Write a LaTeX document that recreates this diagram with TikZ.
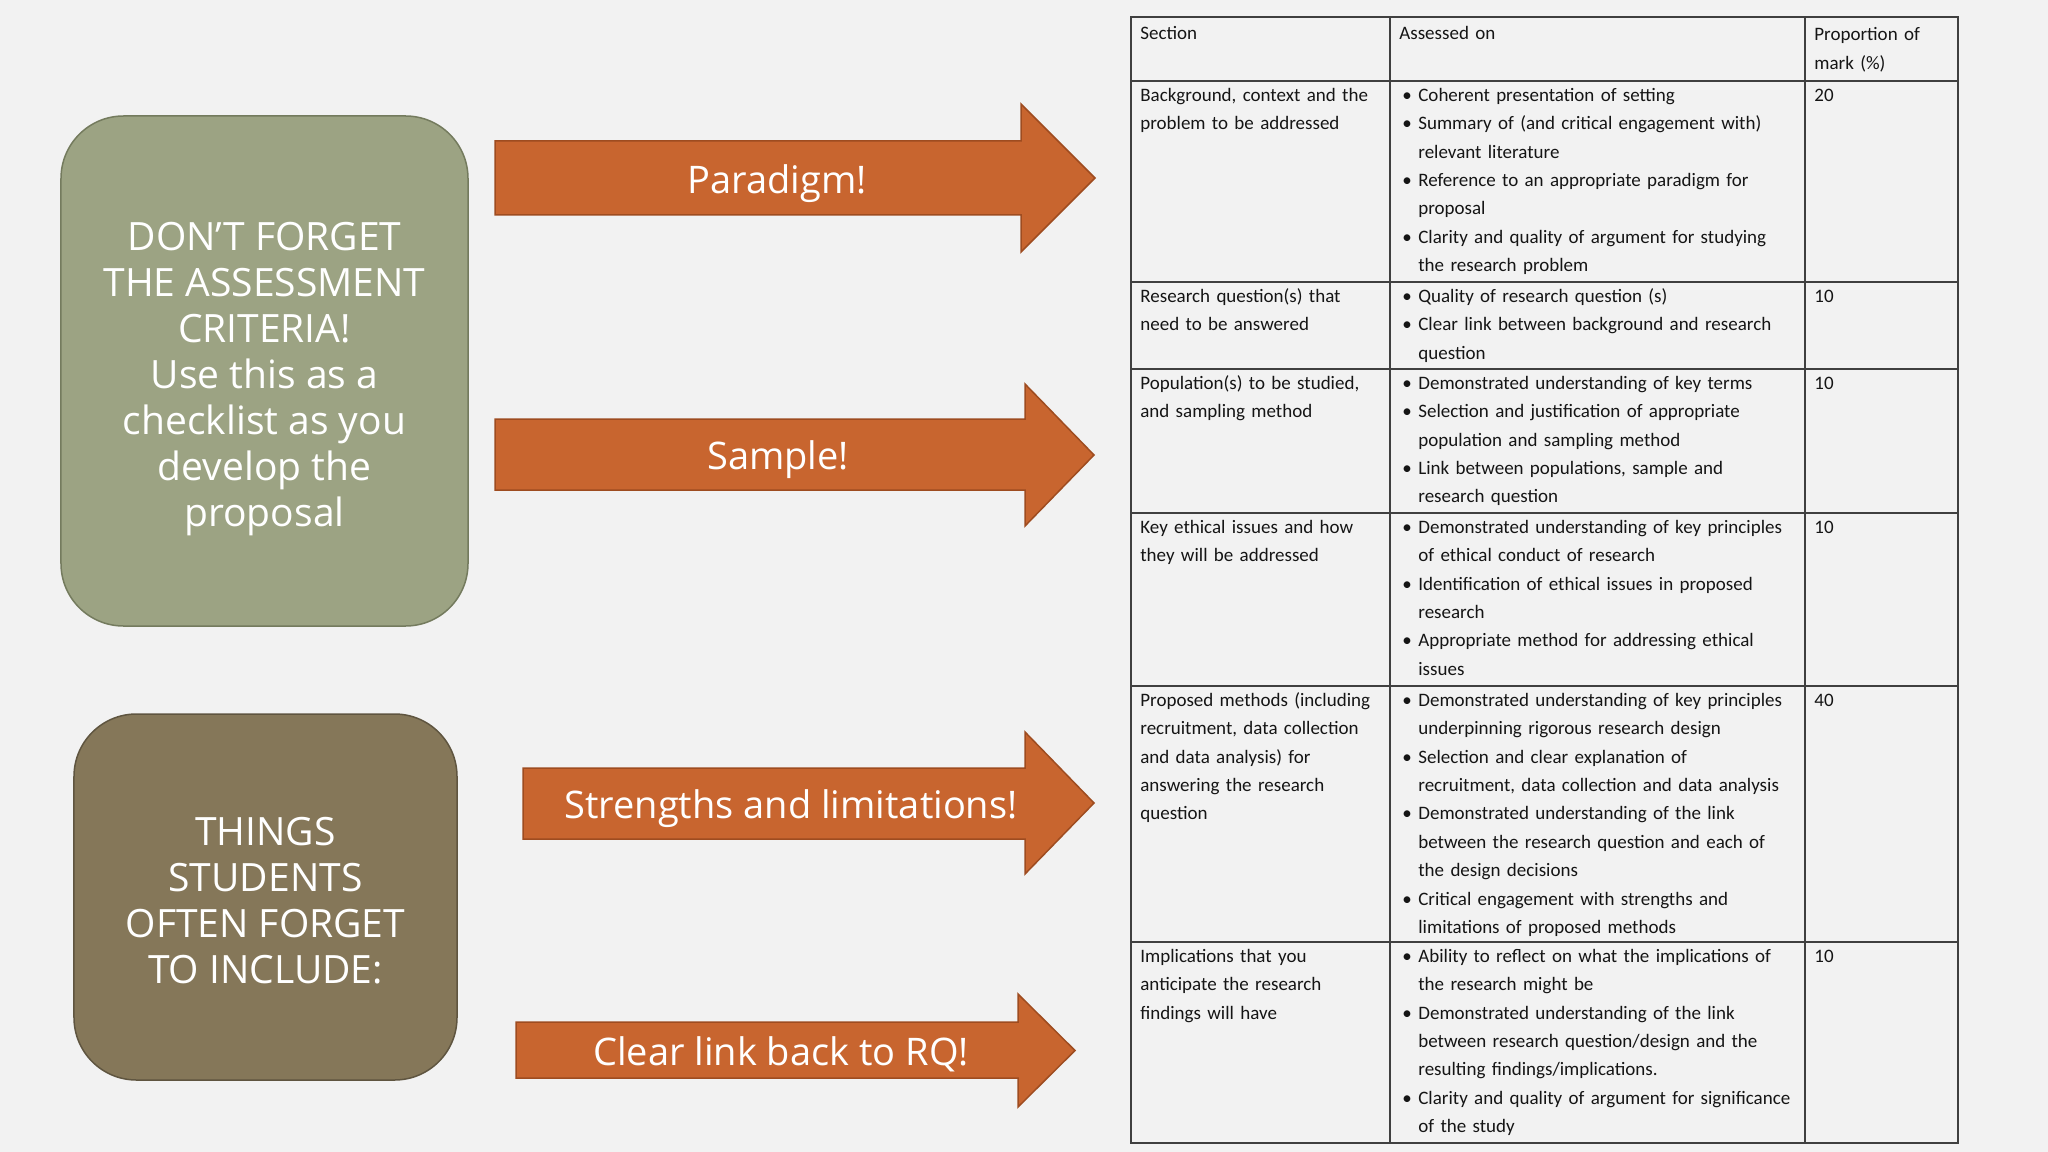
\documentclass[tikz,border=0pt]{standalone}
\usepackage{fontspec}
\setmainfont{Carlito}
\newfontfamily\slidefont{Open Sans}
\definecolor{fond}{HTML}{F2F2F2}
\definecolor{vert}{HTML}{9CA383}
\definecolor{vertfonce}{HTML}{747B5E}
\definecolor{brun}{HTML}{857759}
\definecolor{brunfonce}{HTML}{5F5540}
\definecolor{ocre}{HTML}{C8652F}
\definecolor{ocrefonce}{HTML}{9E4C20}
\definecolor{encre}{HTML}{151515}
\definecolor{trait}{HTML}{404040}
\newcommand\bulit{\makebox[3.2mm][l]{\textbullet}}
\newcommand\contit{\hspace*{3.2mm}}
\begin{document}
\begin{tikzpicture}[x=0.2mm,y=-0.2mm,
  cell/.style={anchor=north west,inner sep=0pt,align=left,text width=#1,text=encre,font=\fontsize{3.8mm}{5.68mm}\selectfont},
  bloc/.style={rounded corners=12.5mm,line width=0.3mm},
  bloc texte/.style={align=center,inner sep=0pt,text=white,font=\slidefont\fontsize{7.8mm}{9.2mm}\selectfont},
  fleche/.style={fill=ocre,draw=ocrefonce,line width=0.3mm,line join=miter},
  fleche texte/.style={anchor=base,inner sep=0pt,text=white,font=\slidefont\fontsize{7.6mm}{9mm}\selectfont}]
\useasboundingbox (0,0) rectangle (2048,1152);
\fill [fond] (0,0) rectangle (2048,1152);

\node [bloc,fill=vert,draw=vertfonce,minimum width=81.4mm,minimum height=102mm] (criteres) at (264.5,371) {};
\node [bloc texte] (criteres texte) at (264.5,379)
  {DON’T FORGET\\THE ASSESSMENT\\CRITERIA!\\Use this as a\\checklist as you\\develop the\\proposal};
\node [bloc,fill=brun,draw=brunfonce,minimum width=76.6mm,minimum height=73.2mm] (oublis) at (265.5,897) {};
\node [bloc texte] (oublis texte) at (265.5,901)
  {THINGS\\STUDENTS\\OFTEN FORGET\\TO INCLUDE:};

\foreach \a/\b/\t/\yt/\yb/\ht/\hb/\tx/\ty/\mot [count=\i] in
  {495/1021/1095/141/215/104/252/777/194/Paradigm!,
   495/1025/1094/419/490/384/526/778/469/Sample!,
   523/1025/1094/768/839/732/874/791/818/Strengths and limitations!,
   516/1018/1075/1022/1078/994/1107/781/1065/Clear link back to RQ!}
{
  \draw [fleche] (\a,\yt) -- (\b,\yt) -- (\b,\ht) -- (\t,{(\ht+\hb)/2}) -- (\b,\hb) -- (\b,\yb) -- (\a,\yb) -- cycle;
  \node [fleche texte] (rappel\i) at (\tx,\ty) {\mot};
}

\draw [trait,line width=0.35mm] (1131,17) rectangle (1958,1143);
\draw [trait,line width=0.3mm] (1390,17) -- (1390,1143);
\draw [trait,line width=0.3mm] (1805,17) -- (1805,1143);
\foreach \y in {81,282,369,513,686,942}
  \draw [trait,line width=0.3mm] (1131,\y) -- (1958,\y);

\node [cell=50mm] (sec0) at (1140,19) {\strut Section};
\node [cell=80mm] (ass0) at (1399,19) {\strut Assessed on};
\node [cell=29mm] (pro0) at (1814,19) {\fontsize{3.8mm}{6.1mm}\selectfont\strut Proportion of\\mark (\%)};

\node [cell=50mm] (sec1) at (1140,81) {\strut Background, context and the\\problem to be addressed};
\node [cell=80mm] (ass1) at (1402,81) {\strut\bulit Coherent presentation of setting\\
  \bulit Summary of (and critical engagement with)\\\contit relevant literature\\
  \bulit Reference to an appropriate paradigm for\\\contit proposal\\
  \bulit Clarity and quality of argument for studying\\\contit the research problem};
\node [cell=29mm] (pro1) at (1814,81) {\strut 20};

\node [cell=50mm] (sec2) at (1140,282) {\strut Research question(s) that\\need to be answered};
\node [cell=80mm] (ass2) at (1402,282) {\strut\bulit Quality of research question (s)\\
  \bulit Clear link between background and research\\\contit question};
\node [cell=29mm] (pro2) at (1814,282) {\strut 10};

\node [cell=50mm] (sec3) at (1140,369) {\strut Population(s) to be studied,\\and sampling method};
\node [cell=80mm] (ass3) at (1402,369) {\strut\bulit Demonstrated understanding of key terms\\
  \bulit Selection and justification of appropriate\\\contit population and sampling method\\
  \bulit Link between populations, sample and\\\contit research question};
\node [cell=29mm] (pro3) at (1814,369) {\strut 10};

\node [cell=50mm] (sec4) at (1140,513) {\strut Key ethical issues and how\\they will be addressed};
\node [cell=80mm] (ass4) at (1402,513) {\strut\bulit Demonstrated understanding of key principles\\\contit of ethical conduct of research\\
  \bulit Identification of ethical issues in proposed\\\contit research\\
  \bulit Appropriate method for addressing ethical\\\contit issues};
\node [cell=29mm] (pro4) at (1814,513) {\strut 10};

\node [cell=50mm] (sec5) at (1140,686) {\strut Proposed methods (including\\recruitment, data collection\\and data analysis) for\\answering the research\\question};
\node [cell=80mm] (ass5) at (1402,686) {\strut\bulit Demonstrated understanding of key principles\\\contit underpinning rigorous research design\\
  \bulit Selection and clear explanation of\\\contit recruitment, data collection and data analysis\\
  \bulit Demonstrated understanding of the link\\\contit between the research question and each of\\\contit the design decisions\\
  \bulit Critical engagement with strengths and\\\contit limitations of proposed methods};
\node [cell=29mm] (pro5) at (1814,686) {\strut 40};

\node [cell=50mm] (sec6) at (1140,942) {\strut Implications that you\\anticipate the research\\findings will have};
\node [cell=80mm] (ass6) at (1402,942) {\strut\bulit Ability to reflect on what the implications of\\\contit the research might be\\
  \bulit Demonstrated understanding of the link\\\contit between research question/design and the\\\contit resulting findings/implications.\\
  \bulit Clarity and quality of argument for significance\\\contit of the study};
\node [cell=29mm] (pro6) at (1814,942) {\strut 10};

\end{tikzpicture}
\end{document}
